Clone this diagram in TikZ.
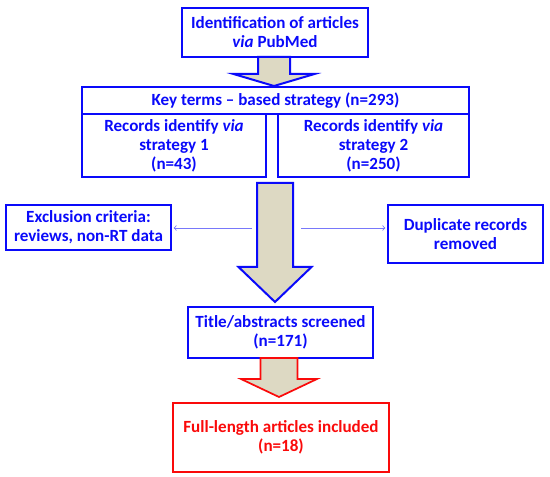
\documentclass[tikz,border=0pt]{standalone}
\usepackage{fontspec}
\setmainfont{Carlito}
\usepackage{tikz}
\usetikzlibrary{positioning}
\usetikzlibrary{calc}
\definecolor{boxblue}{RGB}{10,10,250}
\definecolor{boxred}{RGB}{250,10,10}
\definecolor{linkblue}{RGB}{120,120,250}
\definecolor{khaki}{RGB}{221,217,195}

\begin{document}
\begin{tikzpicture}
    [ x=0.75pt, y=-0.75pt,
    every node/.style={inner sep=0pt, outer sep=0pt, align=center,
      font=\fontsize{12.8}{14.25}\selectfont\bfseries},
    box/.style={draw=boxblue, text=boxblue, line width=1.5pt, rectangle},
    redbox/.style={draw=boxred, text=boxred, line width=1.3pt, rectangle},
    blockarrow/.style={fill=khaki, draw=boxblue, line width=1.5pt, line join=miter},
    redarrow/.style={fill=khaki, draw=boxred, line width=1.3pt, line join=miter},
    link/.style={draw=linkblue, line width=0.6pt, ->, >=to, shorten >=2pt}
    ]

    \useasboundingbox (0,0) rectangle (550,477);

    \node[box, minimum width=139.5pt, minimum height=36.75pt] (ident) at (275,32.5)
      {Identification of articles\\ \textit{via} PubMed};
    \node[box, minimum width=290.25pt, minimum height=20.25pt] (keys) at (275.5,100.5)
      {Key terms -- based strategy (n=293)};
    \node[box, minimum width=138pt, minimum height=47.25pt] (strat1) at (174,145.5)
      {Records identify \textit{via}\\ strategy 1\\ (n=43)};
    \node[box, minimum width=143.25pt, minimum height=47.25pt] (strat2) at (373.5,145.5)
      {Records identify \textit{via}\\ strategy 2\\ (n=250)};
    \node[box, minimum width=123.75pt, minimum height=33.75pt] (excl) at (88.5,227.5)
      {Exclusion criteria:\\ reviews, non-RT data};
    \node[box, minimum width=116.25pt, minimum height=43.5pt] (dupl) at (465.5,234)
      {Duplicate records\\ removed};
    \node[box, minimum width=138.75pt, minimum height=38.25pt] (screen) at (280.5,332.5)
      {Title/abstracts screened\\ (n=171)};
    \node[redbox, minimum width=162pt, minimum height=51.75pt] (full) at (281,437.5)
      {Full-length articles included\\ (n=18)};

    % block arrows
    \coordinate (a1) at ($(ident.south)+(-1,0)$);
    \draw[blockarrow] ($(a1)+(-16,0)$) -- ($(a1)+(-16,17)$) -- ($(a1)+(-40.5,17)$)
      -- ($(a1)+(0,29)$) -- ($(a1)+(40.5,17)$) -- ($(a1)+(16,17)$) -- ($(a1)+(16,0)$) -- cycle;

    \coordinate (a2) at (275,183);
    \draw[blockarrow] ($(a2)+(-18,0)$) -- ($(a2)+(-18,84)$) -- ($(a2)+(-36.5,84)$)
      -- ($(a2)+(0,119)$) -- ($(a2)+(36.5,84)$) -- ($(a2)+(18,84)$) -- ($(a2)+(18,0)$) -- cycle;

    \coordinate (a3) at ($(screen.south)+(-1.5,0)$);
    \draw[redarrow] ($(a3)+(-18.5,0)$) -- ($(a3)+(-18.5,21)$) -- ($(a3)+(-38,21)$)
      -- ($(a3)+(0,39)$) -- ($(a3)+(38,21)$) -- ($(a3)+(18.5,21)$) -- ($(a3)+(18.5,0)$) -- cycle;

    % side links
    \coordinate (lstart) at (252,228);
    \coordinate (rstart) at (301,228);
    \draw[link] (lstart) -- (lstart -| excl.east);
    \draw[link] (rstart) -- (rstart -| dupl.west);
  \end{tikzpicture}
\end{document}
